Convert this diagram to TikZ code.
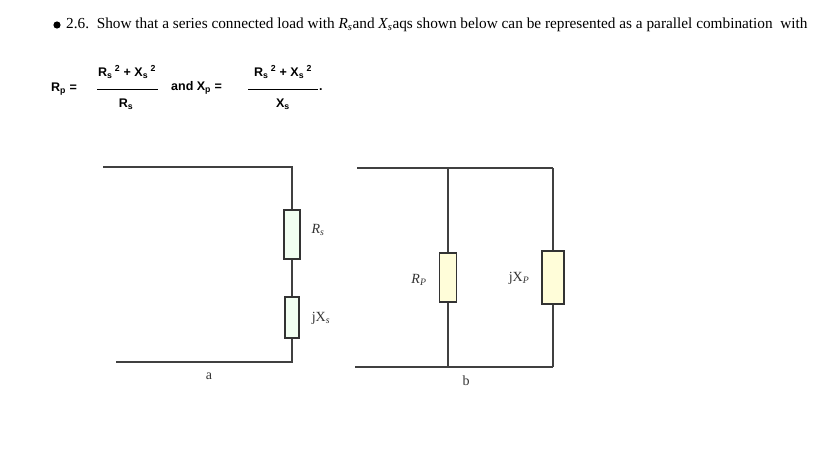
\documentclass[tikz,border=0pt]{standalone}
\usepackage{fontspec}
\setmainfont{Liberation Serif}
\newfontfamily\fsans{Liberation Sans}
\begin{document}
\begin{tikzpicture}[x=1pt,y=-1pt,
  wire/.style={draw=black!75,line width=1.2pt},
  boxs/.style={draw=black!80,line width=1.3pt,fill=green!5},
  boxp/.style={draw=black!80,line width=1.3pt,fill=yellow!15},
  lbl/.style={font=\fontsize{14}{16}\selectfont\itshape,text=black!80},
  lblu/.style={font=\fontsize{14}{16}\selectfont,text=black!80},
  fm/.style={font=\fsans\bfseries\fontsize{12.5}{14}\selectfont,inner sep=1pt}]
\useasboundingbox (0,0) rectangle (835,460);
% header
\fill (57,25) circle (3.6pt);
\node[anchor=west,inner sep=0] (hd) at (66,25) {\fontsize{15.3}{18}\selectfont 2.6.\ \ Show that a series connected load with \textit{R\textsubscript{s}}and \textit{X\textsubscript{s}}aqs shown below can be represented as a parallel combination\ \ with};
% formula
\node[fm,anchor=west] (rp) at (50,89) {R\textsubscript{p} =};
\node[fm] (n1) at (127,72) {R\textsubscript{s}\textsuperscript{ 2} + X\textsubscript{s}\textsuperscript{ 2}};
\draw[line width=1pt] (97,89) -- (158,89);
\node[fm] (d1) at (126,104) {R\textsubscript{s}};
\node[fm,anchor=west] (and) at (170,88) {and X\textsubscript{p} =};
\node[fm] (n2) at (283,72) {R\textsubscript{s}\textsuperscript{ 2} + X\textsubscript{s}\textsuperscript{ 2}};
\draw[line width=1pt] (248,89) -- (318,89);
\node[fm] (d2) at (283,104) {X\textsubscript{s}};
\node[fm,anchor=west] (dot) at (318,90) {.};
% circuit a
\coordinate (a1) at (103,167); \coordinate (a2) at (292,167);
\coordinate (a3) at (292,362); \coordinate (a4) at (116,362);
\node[boxs,minimum width=16pt,minimum height=49pt,inner sep=0] (rs) at (292,234.5) {};
\node[boxs,minimum width=14pt,minimum height=41pt,inner sep=0] (xs) at (292,317.5) {};
\draw[wire] (a1) -- (a2) -- (rs.north);
\draw[wire] (rs.south) -- (xs.north);
\draw[wire] (xs.south) -- (a3) -- (a4);
\node[lbl] (lrs) at (318,230) {R\textsubscript{s}};
\node[lblu] (lxs) at (321,318) {jX\textsubscript{\itshape s}};
\node[lblu] (la) at (209,376) {a};
% circuit b
\coordinate (b1) at (357,168); \coordinate (b2) at (448,168); \coordinate (b3) at (553,168);
\coordinate (b4) at (355,367); \coordinate (b5) at (448,367); \coordinate (b6) at (553,367);
\node[boxp,minimum width=17pt,minimum height=49pt,inner sep=0] (rpb) at (448,277.5) {};
\node[boxp,minimum width=22pt,minimum height=53pt,inner sep=0] (xpb) at (553,277.5) {};
\draw[wire] (b1) -- (b2) -- (b3);
\draw[wire] (b2) -- (rpb.north); \draw[wire] (rpb.south) -- (b5);
\draw[wire] (b3) -- (xpb.north); \draw[wire] (xpb.south) -- (b6);
\draw[wire] (b4) -- (b5) -- (b6);
\node[lbl] (lrp) at (419,280) {R\textsubscript{P}};
\node[lblu] (lxp) at (519,278) {jX\textsubscript{\itshape P}};
\node[lblu] (lb) at (466,381) {b};
\end{tikzpicture}
\end{document}
